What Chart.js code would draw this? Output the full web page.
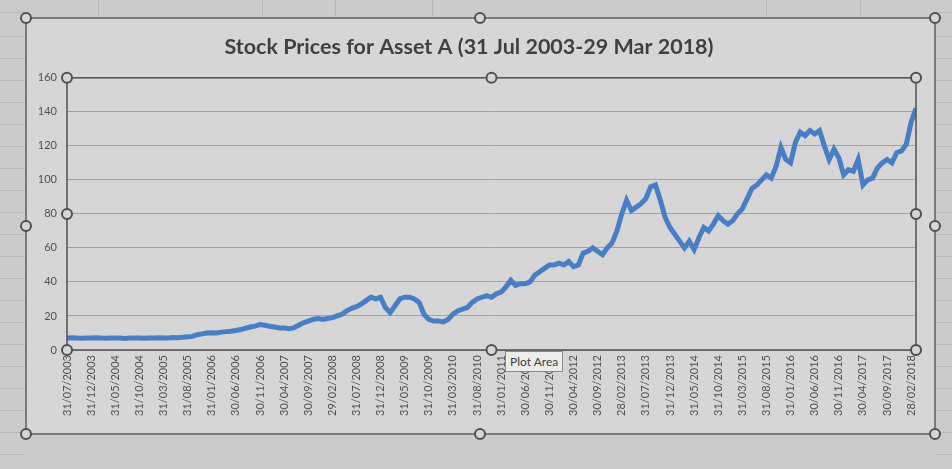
<!DOCTYPE html>
<html>
<head>
<meta charset="utf-8">
<script src="https://cdn.jsdelivr.net/npm/chart.js@4"></script>
<style>
  html, body { margin: 0; padding: 0; background: #cbcbcb; }
  #wrap { position: relative; width: 952px; height: 469px; }
  #tip {
    position: absolute; left: 505px; top: 351px;
    padding: 2px 4px; background: #ececec; border: 1px solid #8a8a8a;
    font: 12px Lato, "Liberation Sans", sans-serif; color: #404040;
  }
</style>
</head>
<body>
<div id="wrap">
  <canvas id="prices" width="952" height="469"></canvas>
  <div id="tip">Plot Area</div>
</div>
<script>
// month-end closes, one per month from Jul 2003 (index 0) to Mar 2018 (index 176)
const prices = [
  7, 7.2, 7, 6.9, 7.1, 7, 7.2, 7, 6.9, 7, 7.1, 7, 6.8, 7, 7.1, 7, 6.9, 7, 7.1, 7.2,
  7, 7.1, 7.3, 7.2, 7.5, 7.8, 8, 9, 9.5, 10, 10.2, 10, 10.5, 10.8, 11, 11.5, 12, 12.8, 13.5, 14,
  15, 14.5, 14, 13.5, 13, 13, 12.5, 13, 14.5, 16, 17, 18, 18.5, 18, 18.5, 19, 20, 21, 23, 24.5,
  25.5, 27, 29, 31, 30, 31, 25, 22, 26, 30, 31, 31, 30, 28, 21, 18, 17, 17, 16.5, 18,
  21, 23, 24, 25, 28, 30, 31, 32, 31, 33, 34, 37, 41, 38, 39, 39, 40, 44, 46, 48,
  50, 50, 51, 50, 52, 49, 50, 57, 58, 60, 58, 56, 60, 63, 70, 80, 88, 82, 84, 86,
  89, 96, 97, 88, 78, 72, 68, 64, 60, 64, 59, 66, 72, 70, 74, 79, 76, 74, 76, 80,
  83, 89, 95, 97, 100, 103, 101, 108, 119, 112, 110, 122, 128, 126, 129, 127, 129, 120, 112, 118,
  113, 103, 106, 105, 112, 97, 100, 101, 107, 110, 112, 110, 116, 117, 121, 134, 142
];

// axis labels, one every 5 months
const tickLabels = [
  '31/07/2003', '31/12/2003', '31/05/2004', '31/10/2004', '31/03/2005', '31/08/2005',
  '31/01/2006', '30/06/2006', '30/11/2006', '30/04/2007', '30/09/2007', '29/02/2008',
  '31/07/2008', '31/12/2008', '31/05/2009', '31/10/2009', '31/03/2010', '31/08/2010',
  '31/01/2011', '30/06/2011', '30/11/2011', '30/04/2012', '30/09/2012', '28/02/2013',
  '31/07/2013', '31/12/2013', '31/05/2014', '31/10/2014', '31/03/2015', '31/08/2015',
  '31/01/2016', '30/06/2016', '30/11/2016', '30/04/2017', '30/09/2017', '28/02/2018'
];

const font = 'Lato, "Liberation Sans", sans-serif';

// chart frame, plot area outline and selection handles
const frame = {
  id: 'frame',
  beforeDraw(chart) {
    const ctx = chart.ctx;
    ctx.save();
    ctx.fillStyle = '#cbcbcb';
    ctx.fillRect(0, 0, chart.width, chart.height);
    // spreadsheet cell lines outside the chart
    ctx.strokeStyle = '#b9b9b9';
    ctx.lineWidth = 1;
    [98, 262, 335, 432, 766, 860].forEach(x => {
      ctx.beginPath(); ctx.moveTo(x + 0.5, 0); ctx.lineTo(x + 0.5, 18); ctx.stroke();
    });
    [12, 36, 58, 80, 102, 124, 146, 168, 190, 212, 234, 256, 278, 300, 322, 344, 366, 388, 410, 432, 454].forEach(y => {
      ctx.beginPath(); ctx.moveTo(0, y + 0.5); ctx.lineTo(25, y + 0.5); ctx.stroke();
      ctx.beginPath(); ctx.moveTo(935, y + 0.5); ctx.lineTo(952, y + 0.5); ctx.stroke();
    });
    ctx.fillStyle = '#d6d6d6';
    ctx.fillRect(26, 18, 909, 416);
    ctx.strokeStyle = '#606060';
    ctx.lineWidth = 1.5;
    ctx.strokeRect(26, 18, 909, 416);
    ctx.restore();
  },
  afterDraw(chart) {
    const ctx = chart.ctx;
    const a = chart.chartArea;
    ctx.save();
    ctx.strokeStyle = '#505050';
    ctx.lineWidth = 1.5;
    ctx.strokeRect(a.left, a.top, a.right - a.left, a.bottom - a.top);
    const handles = [
      [26, 18], [480, 18], [935, 18], [935, 226], [935, 434], [480, 434], [26, 434], [26, 226],
      [a.left, a.top], [(a.left + a.right) / 2, a.top], [a.right, a.top], [a.right, (a.top + a.bottom) / 2],
      [a.right, a.bottom], [(a.left + a.right) / 2, a.bottom], [a.left, a.bottom], [a.left, (a.top + a.bottom) / 2]
    ];
    ctx.fillStyle = '#d6d6d6';
    ctx.lineWidth = 2;
    handles.forEach(([x, y]) => {
      ctx.beginPath();
      ctx.arc(x, y, 5, 0, Math.PI * 2);
      ctx.fill();
      ctx.stroke();
    });
    ctx.restore();
  }
};

new Chart(document.getElementById('prices'), {
  type: 'line',
  data: {
    datasets: [{
      label: 'Asset A',
      data: prices.map((v, i) => ({ x: i, y: v })),
      borderColor: '#4a7ec4',
      borderWidth: 5,
      pointRadius: 0,
      tension: 0,
    }],
  },
  options: {
    responsive: false,
    animation: false,
    layout: { padding: { left: 22, right: 36, top: 0, bottom: 0 } },
    plugins: {
      legend: { display: false },
      tooltip: { enabled: false },
      title: {
        display: true,
        text: 'Stock Prices for Asset A (31 Jul 2003-29 Mar 2018)',
        color: '#404040',
        font: { family: font, size: 21.5, weight: 'bold' },
        padding: { top: 34, bottom: 18 },
      },
    },
    scales: {
      x: {
        type: 'linear',
        min: 0,
        max: 176,
        afterBuildTicks: (scale) => {
          scale.ticks = tickLabels.map((_, i) => ({ value: i * 5 }));
        },
        afterFit: (scale) => { scale.height = 119; },
        grid: { display: false, drawTicks: false },
        border: { display: false },
        ticks: {
          autoSkip: false,
          maxRotation: 90,
          minRotation: 90,
          padding: 5,
          color: '#505050',
          font: { family: font, size: 11 },
          callback: (value) => tickLabels[Math.round(value / 5)],
        },
      },
      y: {
        min: 0,
        max: 160,
        afterFit: (scale) => { scale.width = 45; },
        grid: { color: '#a2a2a2', lineWidth: 1, drawTicks: false },
        border: { display: false },
        ticks: {
          stepSize: 20,
          padding: 10,
          color: '#505050',
          font: { family: font, size: 11 },
        },
      },
    },
  },
  plugins: [frame],
});
</script>
</body>
</html>
